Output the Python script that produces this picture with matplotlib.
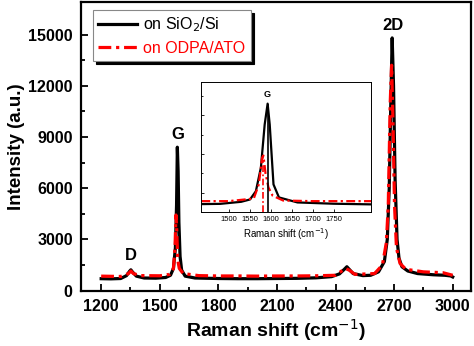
import matplotlib
matplotlib.use("Agg")
import matplotlib.pyplot as plt

plt.rcParams['font.family'] = ['Liberation Sans', 'DejaVu Sans']

# main spectrum, on SiO2/Si (black)
shift_si = [1200, 1250, 1300, 1330, 1345, 1352, 1360, 1380, 1420, 1480, 1530, 1555,
            1570, 1580, 1586, 1590, 1594, 1598, 1604, 1612, 1630, 1680, 1800, 1900,
            2000, 2100, 2200, 2300, 2380, 2420, 2445, 2458, 2470, 2490, 2540, 2580,
            2620, 2650, 2665, 2675, 2683, 2690, 2697, 2705, 2715, 2725, 2740, 2770,
            2820, 2900, 2960, 2990, 3000]
int_si = [700, 690, 710, 880, 1130, 1220, 1100, 850, 740, 730, 770, 900,
          1300, 2500, 5000, 8400, 7000, 4000, 2000, 1200, 850, 740, 710, 700,
          700, 710, 720, 750, 820, 980, 1250, 1400, 1250, 1000, 880, 900,
          1100, 1700, 3000, 6000, 11000, 14800, 12000, 6500, 3000, 1900, 1400, 1150,
          1000, 930, 900, 860, 800]

# main spectrum, on ODPA/ATO (red)
shift_ato = [1200, 1250, 1300, 1340, 1352, 1365, 1400, 1500, 1550, 1570, 1578, 1583,
             1587, 1592, 1600, 1620, 1700, 1800, 1900, 2000, 2100, 2200, 2300, 2400,
             2450, 2470, 2500, 2600, 2640, 2660, 2670, 2680, 2687, 2694, 2702, 2712,
             2730, 2760, 2850, 2950, 3000]
int_ato = [850, 840, 830, 1000, 1150, 1000, 880, 870, 950, 1300, 2500, 4430,
           3500, 1800, 1300, 1000, 880, 860, 860, 850, 860, 860, 870, 900,
           1300, 1200, 950, 1000, 1500, 2800, 5000, 11000, 13200, 10000, 5000, 2500,
           1600, 1250, 1100, 1050, 900]

# inset, G band region
g_shift_si = [1435, 1480, 1530, 1551, 1565, 1577, 1586, 1593, 1598, 1607, 1620, 1664, 1750, 1840]
g_int_si = [620, 640, 800, 980, 1620, 3460, 6800, 8420, 6800, 2150, 1140, 750, 650, 600]
g_shift_ato = [1435, 1500, 1560, 1572, 1580, 1583, 1588, 1595, 1605, 1630, 1700, 1840]
g_int_ato = [850, 850, 1050, 2150, 4240, 4390, 3000, 1910, 1270, 900, 850, 850]

fig = plt.figure(figsize=(4.74, 3.46), dpi=100)
ax = fig.add_axes([0.171, 0.160, 0.822, 0.834])

ax.plot(shift_si, int_si, color='black', lw=2.3, label='on SiO$_2$/Si')
ax.plot(shift_ato, int_ato, color='red', lw=2.3, ls=(0, (4, 1.5, 1, 1.5)), label='on ODPA/ATO')

ax.set_xlim(1097, 3092)
ax.set_ylim(0, 16900)
ax.set_xticks([1200, 1500, 1800, 2100, 2400, 2700, 3000])
ax.set_xticks([1350, 1650, 1950, 2250, 2550, 2850], minor=True)
ax.set_yticks([0, 3000, 6000, 9000, 12000, 15000])
ax.set_yticks([1500, 4500, 7500, 10500, 13500], minor=True)
ax.tick_params(which='both', direction='in', top=False, right=False, width=1.3)
ax.tick_params(which='major', length=5, labelsize=11.5, pad=6)
ax.tick_params(which='minor', length=3)
for lbl in ax.get_xticklabels() + ax.get_yticklabels():
    lbl.set_fontweight('bold')
for sp in ax.spines.values():
    sp.set_linewidth(1.6)

ax.set_xlabel('Raman shift (cm$^{-1}$)', fontsize=14, fontweight='bold', labelpad=2)
ax.set_ylabel('Intensity (a.u.)', fontsize=13.5, fontweight='bold', labelpad=2)

ax.text(1350, 1600, 'D', fontsize=12, fontweight='bold', ha='center', va='bottom')
ax.text(1590, 8700, 'G', fontsize=12, fontweight='bold', ha='center', va='bottom')
ax.text(2693, 15100, '2D', fontsize=12, fontweight='bold', ha='center', va='bottom')

leg = ax.legend(loc='upper left', bbox_to_anchor=(0.03, 0.973), borderaxespad=0,
                fontsize=11.5, fancybox=False, handlelength=2.4, handletextpad=0.4,
                borderpad=0.35, labelspacing=0.4, framealpha=1,
                shadow={'color': 'black', 'alpha': 1})
leg.get_frame().set_edgecolor('#888888')
leg.get_frame().set_linewidth(0.8)
for txt, line in zip(leg.get_texts(), leg.get_lines()):
    txt.set_color(line.get_color())

# inset
ins = fig.add_axes([0.4247, 0.387, 0.3586, 0.376])
ins.plot(g_shift_si, g_int_si, color='black', lw=1.6)
ins.plot(g_shift_ato, g_int_ato, color='red', lw=1.6, ls=(0, (4, 1.5, 1, 1.5)))
ins.vlines(1594, 0, 8420, color='black', lw=1.2)
ins.vlines(1583, 0, 4390, color='red', lw=1.2, ls=(0, (4, 1.5, 1, 1.5)))
ins.set_xlim(1435, 1840)
ins.set_ylim(0, 10100)
ins.set_xticks([1500, 1550, 1600, 1650, 1700, 1750])
ins.set_yticks([1500, 4500, 7500])
ins.set_yticks([0, 3000, 6000, 9000], minor=True)
ins.set_yticklabels([])
ins.tick_params(which='both', direction='in', top=False, right=False, width=0.6)
ins.tick_params(which='major', length=2.5, labelsize=5.5, pad=3)
ins.tick_params(which='minor', length=1.5)
ins.set_xlabel('Raman shift (cm$^{-1}$)', fontsize=7, labelpad=2)
ins.text(1593, 8800, 'G', fontsize=6.5, fontweight='bold', ha='center', va='bottom')
for sp in ins.spines.values():
    sp.set_linewidth(0.7)

fig.savefig('out.png', dpi=100)
